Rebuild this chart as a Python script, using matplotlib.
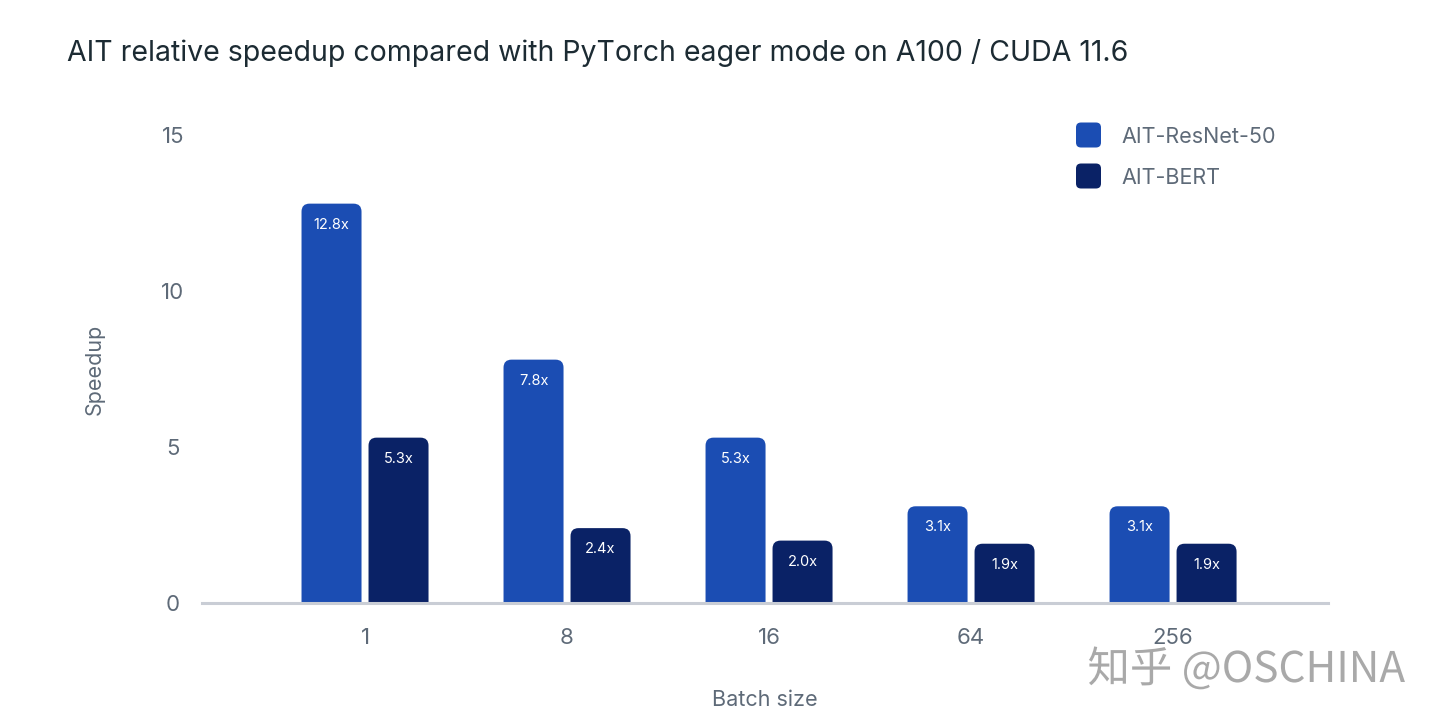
import matplotlib
matplotlib.use("Agg")
import matplotlib.pyplot as plt
from matplotlib.patches import FancyBboxPatch
import matplotlib.patheffects as pe

batch_sizes = ["1", "8", "16", "64", "256"]
resnet50 = [12.8, 7.8, 5.3, 3.1, 3.1]
bert = [5.3, 2.4, 2.0, 1.9, 1.9]
series_names = ["AIT-ResNet-50", "AIT-BERT"]
y_ticks = [0, 5, 10, 15]

c_resnet = "#1b4db3"
c_bert = "#0a2266"
c_text = "#5e6a78"
c_title = "#1c2b33"

plt.rcParams['font.family'] = ['Inter', 'DejaVu Sans']

fig = plt.figure(figsize=(14.4, 7.27), dpi=100)
ax = fig.add_axes([202/1440, 1-603/727, (1328-202)/1440, (603-135)/727])

x = list(range(len(batch_sizes)))
w = 60/202
gap = 7/202
b1 = ax.bar([i - (w+gap)/2 for i in x], resnet50, width=w, color=c_resnet, label=series_names[0])
b2 = ax.bar([i + (w+gap)/2 for i in x], bert, width=w, color=c_bert, label=series_names[1])

ax.set_xlim(-0.807, 4.767)
ax.set_ylim(0, 15)

# pixel scale for rounding
xpp = (4.767+0.807)/(1328-202)
ypp = 15/(603-135)
r_px = 8
for bars, col, vals in ((b1, c_resnet, resnet50), (b2, c_bert, bert)):
    for rect, v in zip(bars, vals):
        rect.set_visible(False)
        x0 = rect.get_x(); bw = rect.get_width(); h = rect.get_height()
        ext = r_px*ypp*2
        p = FancyBboxPatch((x0, -ext), bw, h+ext,
                           boxstyle=f"round,pad=0,rounding_size={r_px*xpp}",
                           mutation_aspect=ypp/xpp, facecolor=col, edgecolor='none',
                           clip_on=True)
        ax.add_patch(p)
        ax.text(x0+bw/2, h - 21*ypp, f"{v}x", ha='center', va='center',
                color='white', fontsize=10.5)

ax.axhline(0, color="#c9cdd5", lw=2.2, zorder=5, clip_on=False)

for s in ax.spines.values():
    s.set_visible(False)
ax.set_yticks(y_ticks)
ax.set_yticklabels([str(t) for t in y_ticks])
ax.set_xticks(x)
ax.set_xticklabels(batch_sizes)
ax.tick_params(axis='both', length=0, labelsize=16, labelcolor=c_text)
ax.tick_params(axis='y', pad=29*0.72)
ax.tick_params(axis='x', pad=18)
for lbl in ax.get_yticklabels():
    lbl.set_horizontalalignment('center')
ax.set_ylabel("Speedup", fontsize=15.5, color=c_text)
ax.yaxis.set_label_coords(-(202-105)/(1328-202), 0.5)
ax.set_xlabel("Batch size", fontsize=15.5, color=c_text, labelpad=30)

fig.text(67/1440, 1-53/727, "AIT relative speedup compared with PyTorch eager mode on A100 / CUDA 11.6",
         fontsize=20.5, color=c_title, ha='left', va='center')

# legend
for i, (name, col) in enumerate(zip(series_names, [c_resnet, c_bert])):
    yc = 135 + 41*i
    sq = FancyBboxPatch((1076/1440, 1-(yc+12.5)/727), 25/1440, 25/727,
                        boxstyle=f"round,pad=0,rounding_size={5/1440}",
                        mutation_aspect=1440/727, transform=fig.transFigure,
                        facecolor=col, edgecolor='none')
    fig.patches.append(sq)
    fig.text(1121/1440, 1-yc/727, name, fontsize=15.5, color=c_text, ha='left', va='center_baseline')

# watermark
fig.text(1405/1440, 1-670/727, "知乎 @OSCHINA", fontsize=30.5, color="#a9a9a9",
         ha='right', va='center', family=['Noto Sans CJK SC', 'DejaVu Sans'],
         path_effects=[pe.withStroke(linewidth=1.5, foreground='white')])

fig.savefig("out.png", dpi=100)
